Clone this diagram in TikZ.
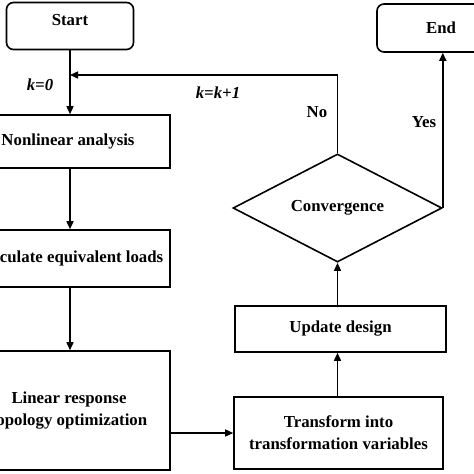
\documentclass[tikz,border=0pt]{standalone}
\usepackage{fontspec}
\setmainfont{Liberation Serif}
\usetikzlibrary{arrows.meta,shapes.geometric}
\begin{document}
\begin{tikzpicture}[x=1pt,y=-1pt,
  every node/.style={font=\bfseries\fontsize{16.8}{22}\selectfont},
  box/.style={draw,line width=1.6pt,inner sep=0pt,align=center},
  term/.style={box,rounded corners=7pt},
  decision/.style={draw,line width=1.6pt,diamond,inner sep=0pt},
  arr/.style={line width=1.5pt,-{Triangle[length=8pt,width=7pt]}},
  lbl/.style={font=\bfseries\itshape\fontsize{16.8}{20}\selectfont},
  plain/.style={font=\bfseries\fontsize{16.8}{20}\selectfont}]
\useasboundingbox (0,0) rectangle (474,474);
\clip (0,0) rectangle (474,474);
\node[term,minimum width=127pt,minimum height=47pt,text height=12pt,text depth=14pt] (start) at (70,26) {Start};
\node[term,minimum width=128pt,minimum height=48pt] (end) at (441,28) {End};
\node[box,minimum width=204pt,minimum height=53pt] (nonlin) at (68,141.5) {Nonlinear analysis};
\node[box,minimum width=202pt,minimum height=57pt] (calc) at (69,258.5) {Calculate equivalent loads};
\node[box,minimum width=202pt,minimum height=119pt] (lin) at (69,410.5) {Linear response\\topology optimization};
\node[box,minimum width=209pt,minimum height=72pt] (trans) at (338.5,433) {Transform into\\transformation variables};
\node[box,minimum width=211pt,minimum height=46pt] (upd) at (340.5,329) {Update design};
\node[decision,minimum width=209pt,minimum height=107pt] (conv) at (337.5,208) {Convergence};
\coordinate (kpt) at (70,75);
\draw[arr] (start.south) -- (start.south |- nonlin.north);
\draw[arr] (kpt |- nonlin.south) -- (kpt |- calc.north);
\draw[arr] (kpt |- calc.south) -- (kpt |- lin.north);
\draw[arr] (lin.east |- trans.west) -- (trans.west);
\draw[arr] (conv.south |- trans.north) -- (conv.south |- upd.south);
\draw[arr] (conv.south |- upd.north) -- (conv.south);
\draw[arr] (conv.north) |- (kpt);
\draw[arr] (conv.east) -- (conv.east |- end.south);
\node[lbl] (k0) at (40,85) {k=0};
\node[lbl] (kk) at (218,93) {k=k+1};
\node[plain] (no) at (317,112) {No};
\node[plain] (yes) at (424,122) {Yes};
\end{tikzpicture}
\end{document}
